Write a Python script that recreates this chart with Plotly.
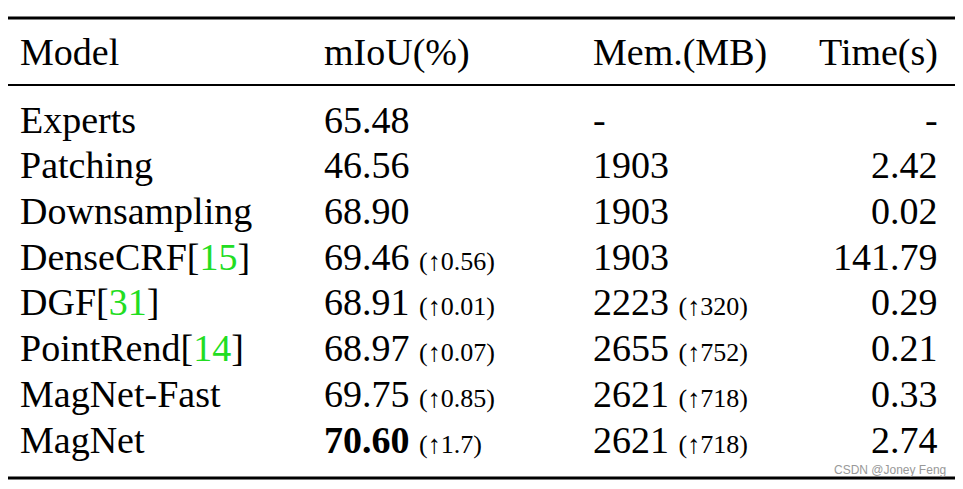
import plotly.graph_objects as go

headers = ["Model", "mIoU(%)", "Mem.(MB)", "Time(s)"]
models = ["Experts", "Patching", "Downsampling", "DenseCRF", "DGF", "PointRend", "MagNet-Fast", "MagNet"]
cites = ["", "", "", "15", "31", "14", "", ""]
miou = ["65.48", "46.56", "68.90", "69.46", "68.91", "68.97", "69.75", "70.60"]
miou_delta = ["", "", "", "↑0.56", "↑0.01", "↑0.07", "↑0.85", "↑1.7"]
mem = ["-", "1903", "1903", "1903", "2223", "2655", "2621", "2621"]
mem_delta = ["", "", "", "", "↑320", "↑752", "↑718", "↑718"]
time_s = ["-", "2.42", "0.02", "141.79", "0.29", "0.21", "0.33", "2.74"]
best_row = "MagNet"

W, H = 963, 489
OFF = 8  # page body margin compensation
col_x = [18, 322, 591, 940]
col_anchor = ["left", "left", "left", "right"]
header_y = 52
row_y = [120, 165, 211, 257, 302, 348, 394, 440]
FS = 38
SMALL = 26

def small(d):
    return f" <span style='font-size:{SMALL}px'>({d})</span>" if d else ""

fig = go.Figure()
ann = []
for j, h in enumerate(headers):
    ann.append(dict(x=col_x[j], y=header_y, text=h, xanchor=col_anchor[j]))
for i, m in enumerate(models):
    name = m + (f"[<span style='color:#22dd22'>{cites[i]}</span>]" if cites[i] else "")
    mv = f"<b>{miou[i]}</b>" if m == best_row else miou[i]
    cells = [name, mv + small(miou_delta[i]), mem[i] + small(mem_delta[i]), time_s[i]]
    for j, c in enumerate(cells):
        ann.append(dict(x=col_x[j], y=row_y[i], text=c, xanchor=col_anchor[j]))
for a in ann:
    a.update(xref="x", yref="y", yanchor="middle", showarrow=False,
             font=dict(family="Liberation Serif", size=FS, color="black"))
ann.append(dict(x=948, y=470, xref="x", yref="y", text="CSDN @Joney Feng", xanchor="right",
                yanchor="middle", showarrow=False,
                font=dict(family="Liberation Sans", size=12, color="#999999")))

shapes = []
for y, w in [(18, 3), (85, 2), (478, 3)]:
    shapes.append(dict(type="line", xref="x", yref="y", x0=5, x1=955, y0=y, y1=y,
                       line=dict(color="black", width=w)))

fig.update_layout(width=W, height=H, margin=dict(l=0, r=0, t=0, b=0),
                  paper_bgcolor="white", plot_bgcolor="white",
                  xaxis=dict(range=[OFF, W + OFF], visible=False),
                  yaxis=dict(range=[H + OFF, OFF], visible=False),
                  annotations=ann, shapes=shapes, showlegend=False)
fig.write_html("out.html")
